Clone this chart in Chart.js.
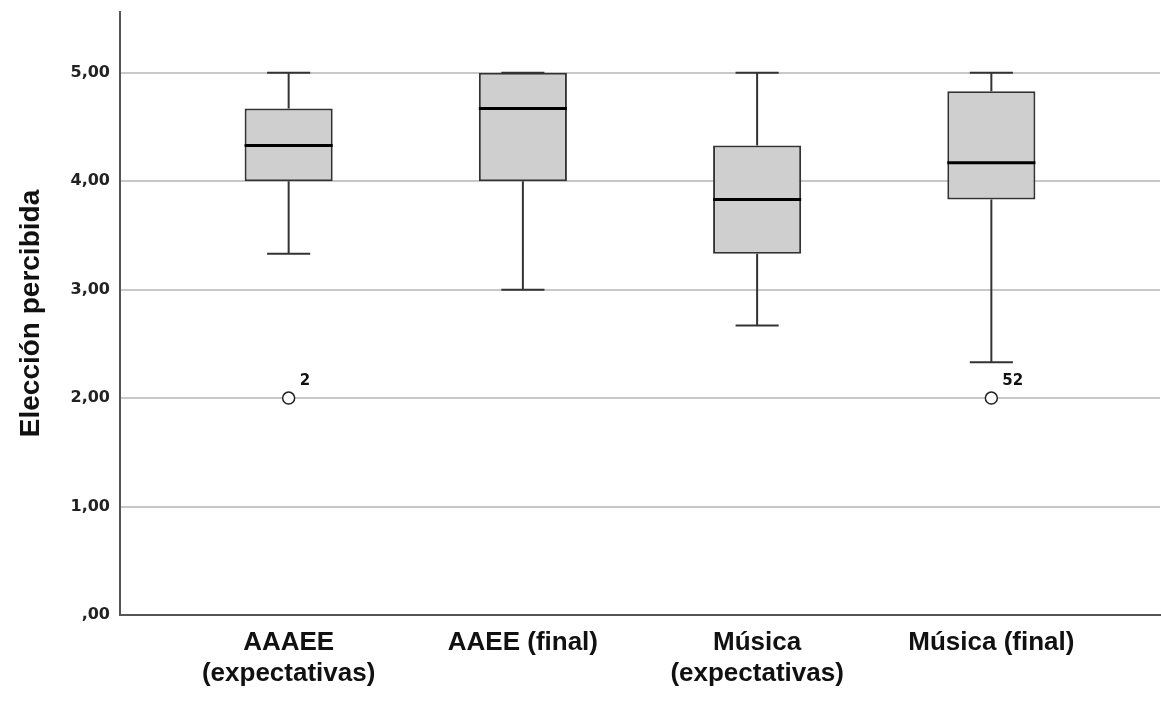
<!DOCTYPE html>
<html>
<head>
<meta charset="utf-8">
<script src="https://cdn.jsdelivr.net/npm/chart.js@4"></script>
<style>
  html, body { margin: 0; padding: 0; background: #fff; overflow: hidden; }
  canvas { display: block; }
</style>
</head>
<body>
<canvas id="boxChart" width="1161" height="711"></canvas>
<script>
// values
const categories = [['AAAEE', '(expectativas)'], ['AAEE (final)'], ['Música', '(expectativas)'], ['Música (final)']];
const whiskerLow = [3.33, 3.00, 2.67, 2.33];
const q1 = [4.00, 4.00, 3.33, 3.83];
const median = [4.33, 4.67, 3.83, 4.17];
const q3 = [4.67, 5.00, 4.33, 4.83];
const whiskerHigh = [5.00, 5.00, 5.00, 5.00];
const outlierCat = [0, 3];
const outlierVal = [2.00, 2.00];
const outlierIds = ['2', '52'];
const yTicks = [0, 1, 2, 3, 4, 5];

const boxHalf = 0.188;
const capHalf = 0.092;

// segments separated by gaps
const whiskers = [];
const medians = [];
categories.forEach((c, i) => {
  whiskers.push({x: i, y: q3[i]}, {x: i, y: whiskerHigh[i]}, {x: i, y: null});
  whiskers.push({x: i, y: whiskerLow[i]}, {x: i, y: q1[i]}, {x: i, y: null});
  whiskers.push({x: i - capHalf, y: whiskerHigh[i]}, {x: i + capHalf, y: whiskerHigh[i]}, {x: i, y: null});
  whiskers.push({x: i - capHalf, y: whiskerLow[i]}, {x: i + capHalf, y: whiskerLow[i]}, {x: i, y: null});
  medians.push({x: i - boxHalf, y: median[i]}, {x: i + boxHalf, y: median[i]}, {x: i, y: null});
});

const outlierLabels = {
  id: 'outlierLabels',
  afterDatasetsDraw(chart) {
    const meta = chart.getDatasetMeta(3);
    const ctx = chart.ctx;
    ctx.save();
    ctx.font = 'bold 15px "DejaVu Sans"';
    ctx.fillStyle = '#111';
    ctx.textAlign = 'left';
    ctx.textBaseline = 'middle';
    meta.data.forEach((pt, j) => {
      ctx.fillText(outlierIds[j], pt.x + 11, pt.y - 17);
    });
    ctx.restore();
  }
};

new Chart(document.getElementById('boxChart'), {
  type: 'bar',
  data: {
    datasets: [
      {
        type: 'bar',
        data: categories.map((c, i) => ({x: i, y: [q1[i], q3[i]]})),
        backgroundColor: '#cfcfcf',
        borderColor: '#333',
        borderWidth: 2,
        borderSkipped: false,
        categoryPercentage: 1,
        barPercentage: 0.376,
        order: 3
      },
      {
        type: 'line',
        data: whiskers,
        borderColor: '#333',
        borderWidth: 2,
        pointRadius: 0,
        spanGaps: false,
        order: 2
      },
      {
        type: 'line',
        data: medians,
        borderColor: '#000',
        borderWidth: 3,
        pointRadius: 0,
        spanGaps: false,
        order: 1
      },
      {
        type: 'line',
        data: outlierCat.map((c, j) => ({x: c, y: outlierVal[j]})),
        showLine: false,
        pointRadius: 6,
        pointBackgroundColor: '#fff',
        pointBorderColor: '#222',
        pointBorderWidth: 1.5,
        order: 0
      }
    ]
  },
  options: {
    responsive: false,
    animation: false,
    layout: { autoPadding: false, padding: { top: 12, right: 1, left: 0, bottom: 0 } },
    plugins: {
      legend: { display: false },
      tooltip: { enabled: false }
    },
    scales: {
      x: {
        type: 'linear',
        min: -0.72,
        max: 3.72,
        offset: false,
        grid: { display: false, drawTicks: false },
        border: { color: '#555', width: 2 },
        afterBuildTicks: scale => { scale.ticks = categories.map((c, i) => ({value: i})); },
        afterFit: scale => { scale.height = 96; scale.paddingLeft = 0; scale.paddingRight = 0; },
        ticks: {
          autoSkip: false,
          maxRotation: 0,
          padding: 12,
          color: '#111',
          font: { family: '"Liberation Sans", Arial, sans-serif', size: 26, weight: 'bold', lineHeight: 1.2 },
          callback: v => categories[v]
        }
      },
      y: {
        min: 0,
        max: 5.56,
        grid: { color: '#c8c8c8', lineWidth: 2, drawTicks: false },
        border: { color: '#555', width: 2 },
        afterBuildTicks: scale => { scale.ticks = yTicks.map(v => ({value: v})); },
        afterFit: scale => { scale.width = 120; scale.paddingTop = 0; scale.paddingBottom = 0; },
        ticks: {
          padding: 10,
          color: '#222',
          font: { family: '"DejaVu Sans"', size: 16, weight: 'bold' },
          callback: v => v === 0 ? ',00' : v.toFixed(2).replace('.', ',')
        },
        title: {
          display: true,
          text: 'Elección percibida',
          color: '#111',
          padding: { top: 14, bottom: 0 },
          font: { family: '"Liberation Sans", Arial, sans-serif', size: 28, weight: 'bold', lineHeight: 1.2 }
        }
      }
    }
  },
  plugins: [outlierLabels]
});
</script>
</body>
</html>
